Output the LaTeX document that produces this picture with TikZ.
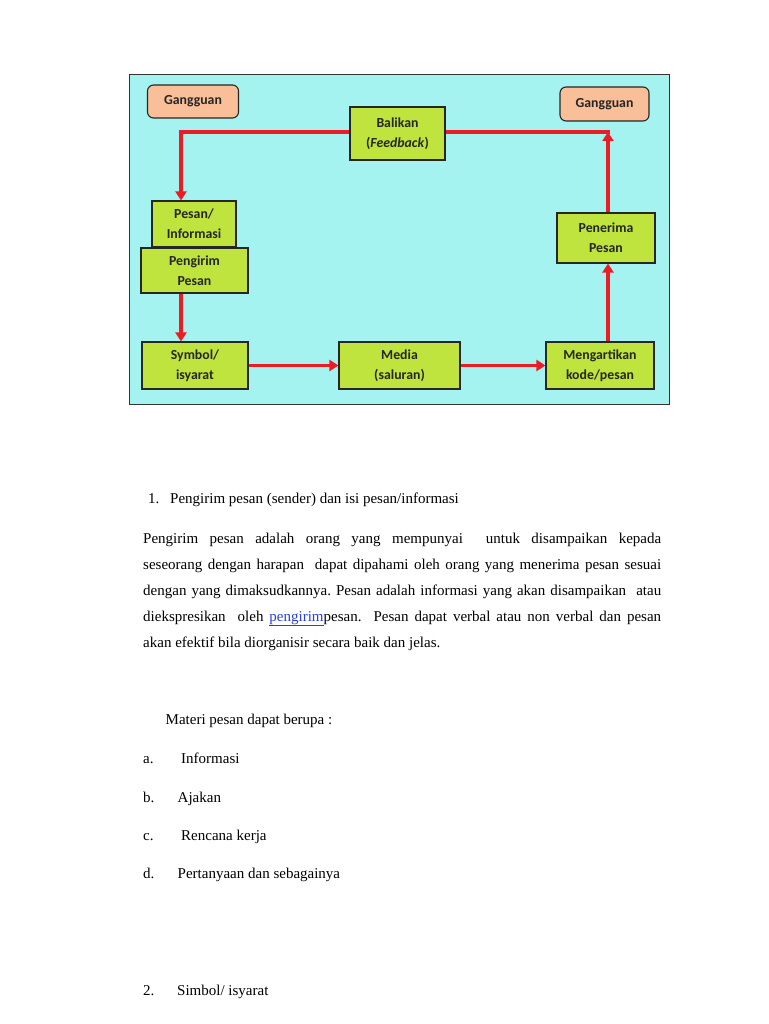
\documentclass[tikz,border=0pt]{standalone}
\usepackage{fontspec}
\setmainfont{Liberation Serif}
\newfontfamily\calfont{Carlito}
\usetikzlibrary{arrows.meta}
\definecolor{bgc}{HTML}{A5F3F0}
\definecolor{boxg}{HTML}{C0E43E}
\definecolor{peach}{HTML}{F8BF98}
\definecolor{arrred}{HTML}{EC1C24}
\definecolor{linkblue}{HTML}{2A3FD6}
\frenchspacing
\begin{document}
\begin{tikzpicture}[x=1pt,y=-1pt,
  stepbox/.style={draw=black!85, line width=1.1pt, fill=boxg, align=center, inner sep=0pt,
    font=\calfont\bfseries\fontsize{13.8}{20}\selectfont, text=black!85},
  noisebox/.style={stepbox, fill=peach, rounded corners=6pt},
  flow/.style={draw=arrred, line width=3.2pt},
  flowarr/.style={flow, -{Triangle[width=11pt,length=9pt]}},
  body/.style={anchor=base west, inner sep=0pt, font=\fontsize{15}{26}\selectfont}]
\useasboundingbox (0,0) rectangle (768,1024);
\fill[white] (0,0) rectangle (768,1024);
\node[draw=black!80, line width=1.3pt, fill=bgc, minimum width=540pt, minimum height=330pt,
  anchor=north west, inner sep=0pt] (frame) at (129,74) {};

\node[noisebox, minimum width=91pt, minimum height=33pt] (gl) at (193,101.5) {Gangguan};
\node[noisebox, minimum width=89pt, minimum height=34pt] (gr) at (604.5,104) {Gangguan};
\node[stepbox, minimum width=95pt, minimum height=53pt] (bal) at (397.5,133.5) {Balikan\\(\textit{Feedback})};
\node[stepbox, minimum width=84pt, minimum height=46pt] (pesan) at (194,224) {Pesan/\\Informasi};
\node[stepbox, minimum width=107pt, minimum height=45pt] (pengirim) at (194.5,270.5) {Pengirim\\Pesan};
\node[stepbox, minimum width=106pt, minimum height=47pt] (sym) at (195,365.5) {Symbol/\\isyarat};
\node[stepbox, minimum width=121pt, minimum height=47pt] (media) at (399.5,365.5) {Media\\(saluran)};
\node[stepbox, minimum width=108pt, minimum height=47pt] (meng) at (600,365.5) {Mengartikan\\kode/pesan};
\node[stepbox, minimum width=98pt, minimum height=50pt] (pen) at (606,238) {Penerima\\Pesan};

\coordinate (lx) at (181,0);
\coordinate (rx) at (608,0);
\draw[flowarr] ([yshift=1.5pt]bal.west) -| (pesan.north -| lx);
\draw[flow] ([yshift=1.5pt]bal.east) -- ([yshift=1.5pt,xshift=1.6pt]bal.east -| rx);
\draw[flowarr] (pen.north -| rx) -- ([yshift=1.5pt]bal.east -| rx);
\draw[flowarr] (pengirim.south -| lx) -- (sym.north -| lx);
\draw[flowarr] (sym.east) -- (media.west);
\draw[flowarr] (media.east) -- (meng.west);
\draw[flowarr] (meng.north -| rx) -- (pen.south -| rx);

\node[body] (n1) at (148,503.5) {1.};
\node[body] (h1) at (170,503.5) {Pengirim pesan (sender) dan isi pesan/informasi};
\node[body] (p1) at (143,543) {\makebox[518pt][s]{Pengirim pesan adalah orang yang mempunyai\ \ untuk disampaikan kepada}};
\node[body] (p2) at (143,569) {\makebox[518pt][s]{seseorang dengan harapan\ \ dapat dipahami oleh orang yang menerima pesan sesuai}};
\node[body] (p3) at (143,595) {\makebox[518pt][s]{dengan yang dimaksudkannya. Pesan adalah informasi yang akan disampaikan\ \ atau}};
\node[body] (p4) at (143,621) {\makebox[518pt][s]{diekspresikan\ \ oleh {\color{linkblue}\underline{pengirim}}pesan.\ \ Pesan dapat verbal atau non verbal dan pesan}};
\node[body] (p5) at (143,647) {akan efektif bila diorganisir secara baik dan jelas.};

\node[body] (m0) at (165.5,724.5) {Materi pesan dapat berupa :};
\node[body] (la) at (143,763.5) {a.};
\node[body] (ta) at (181,763.5) {Informasi};
\node[body] (lb) at (143,802.5) {b.};
\node[body] (tb) at (177.5,802.5) {Ajakan};
\node[body] (lc) at (143,840.5) {c.};
\node[body] (tc) at (181,840.5) {Rencana kerja};
\node[body] (ld) at (143,878.5) {d.};
\node[body] (td) at (177.5,878.5) {Pertanyaan dan sebagainya};
\node[body] (l2) at (143,995.5) {2.};
\node[body] (t2) at (177,995.5) {Simbol/ isyarat};
\end{tikzpicture}
\end{document}
